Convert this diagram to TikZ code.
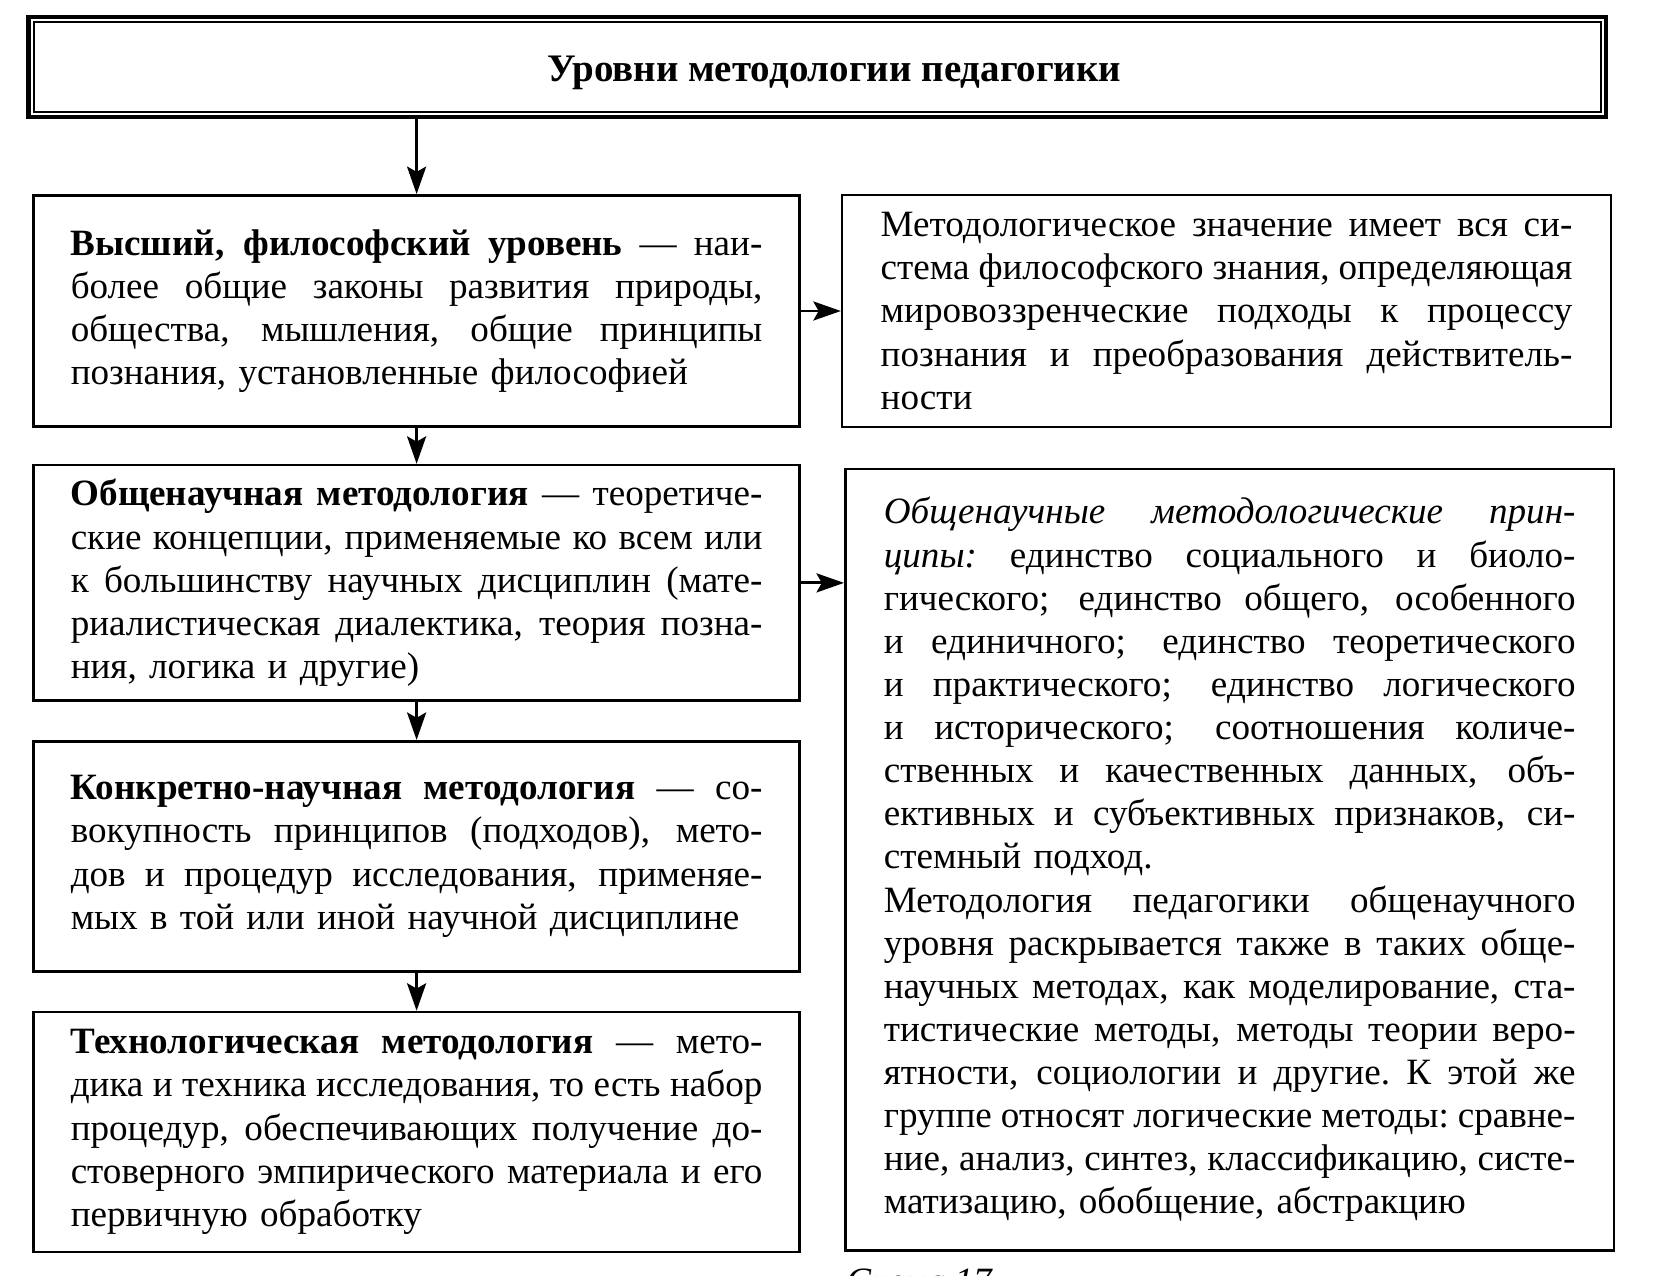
\documentclass[tikz,border=0pt]{standalone}
\usepackage{fontspec}
\setmainfont{Liberation Serif}
\usetikzlibrary{
    positioning,
    arrows.meta,
    calc
}
\setlength{\parindent}{0pt}
% justified line of fixed width
\newlength{\jlw}
\setlength{\jlw}{6.55cm}
\newcommand{\jl}[1]{{\spaceskip=0.25em plus 3em minus 0.12em\xspaceskip=\spaceskip
    \makebox[\jlw][s]{#1}}}

\begin{document}
\begin{tikzpicture}[
    node distance=0.35cm and 0.38cm,
    % Node styles
    levelbox/.style={rectangle, draw=black, line width=0.7pt, text width=6.55cm,
        inner xsep=0.35cm, inner ysep=0pt, align=left,
        font=\fontsize{10}{11.62}\selectfont},
    notebox/.style={levelbox, inner xsep=0.365cm},
    heading/.style={rectangle, draw=black, line width=1.2pt, minimum width=14.94cm,
        minimum height=0.95cm, inner sep=0pt, font=\fontsize{10.5}{12}\selectfont\bfseries},
    % Arrow styles
    arrow/.style={-{Stealth[length=2.6mm, width=1.8mm, inset=0.5mm]}, line width=0.8pt, draw=black}
]
\useasboundingbox (0,0) rectangle (15.71,-12.083);

% --- Title ---
\node[heading] (title) at (7.74,-0.635) {\hspace*{0.32cm}\raisebox{-0.14cm}[0pt][0pt]{Уровни методологии педагогики}};
\draw[line width=0.5pt] ($(title.north west)+(0.07,-0.07)$) rectangle ($(title.south east)+(-0.07,0.07)$);

% === Left column: levels ===
\node[levelbox, minimum height=2.19cm] (lvl_phil) at (3.945,-2.945) {%
\jl{\textbf{Высший, философский уровень} — наи-}\\
\jl{более общие законы развития природы,}\\
\jl{общества, мышления, общие принципы}\\
познания, установленные философией};

\node[levelbox, minimum height=2.23cm] (lvl_gen) [below=0.34cm of lvl_phil] {%
\jl{\textbf{Общенаучная методология} — теоретиче-}\\
\jl{ские концепции, применяемые ко всем или}\\
\jl{к большинству научных дисциплин (мате-}\\
\jl{риалистическая диалектика, теория позна-}\\
ния, логика и другие)};

\node[levelbox, minimum height=2.18cm] (lvl_spec) [below=0.36cm of lvl_gen] {%
\jl{\textbf{Конкретно-научная методология} — со-}\\
\jl{вокупность принципов (подходов), мето-}\\
\jl{дов и процедур исследования, применяе-}\\
мых в той или иной научной дисциплине};

\node[levelbox, minimum height=2.27cm] (lvl_tech) [below=0.36cm of lvl_spec] {%
\jl{\textbf{Технологическая методология} — мето-}\\
\jl{дика и техника исследования, то есть набор}\\
\jl{процедур, обеспечивающих получение до-}\\
\jl{стоверного эмпирического материала и его}\\
первичную обработку};

% === Right column: notes ===
\node[notebox, minimum height=2.20cm] (note_phil) [right=of lvl_phil] {%
\jl{Методологическое значение имеет вся си-}\\
\jl{стема философского знания, определяющая}\\
\jl{мировоззренческие подходы к процессу}\\
\jl{познания и преобразования действитель-}\\
ности};

\node[notebox, minimum height=7.40cm, xshift=0.03cm] (note_gen) [below=0.37cm of note_phil] {%
\jl{\textit{Общенаучные методологические прин-}}\\
\jl{\textit{ципы:} единство социального и биоло-}\\
\jl{гического; единство общего, особенного}\\
\jl{и единичного; единство теоретического}\\
\jl{и практического; единство логического}\\
\jl{и исторического; соотношения количе-}\\
\jl{ственных и качественных данных, объ-}\\
\jl{ективных и субъективных признаков, си-}\\
стемный подход.\\
\jl{Методология педагогики общенаучного}\\
\jl{уровня раскрывается также в таких обще-}\\
\jl{научных методах, как моделирование, ста-}\\
\jl{тистические методы, методы теории веро-}\\
\jl{ятности, социологии и другие. К этой же}\\
\jl{группе относят логические методы: сравне-}\\
\jl{ние, анализ, синтез, классификацию, систе-}\\
матизацию, обобщение, абстракцию};

% --- Arrows down the levels ---
\draw[arrow] (title.south -| lvl_phil.north) -- (lvl_phil.north);
\draw[arrow] (lvl_phil) -- (lvl_gen);
\draw[arrow] (lvl_gen) -- (lvl_spec);
\draw[arrow] (lvl_spec) -- (lvl_tech);

% --- Arrows to the notes ---
\draw[arrow] (lvl_phil) -- (note_phil);
\draw[arrow] (lvl_gen.east) -- (lvl_gen.east -| note_gen.west);

% --- Caption (cut by the page edge) ---
\node[anchor=base west, font=\fontsize{10}{12}\selectfont\itshape] (caption) at (7.89,-12.25) {Схема 17};

\end{tikzpicture}
\end{document}
